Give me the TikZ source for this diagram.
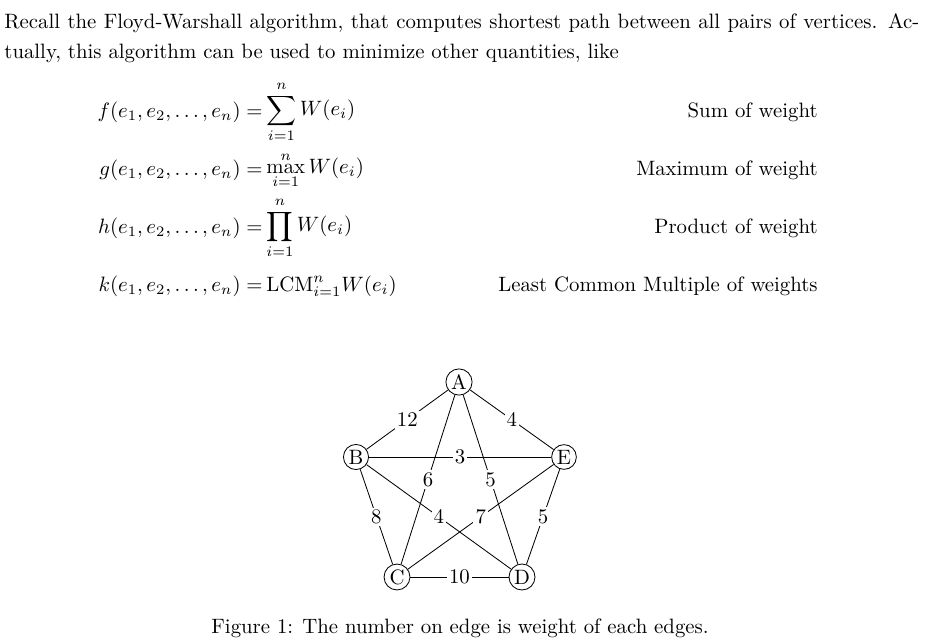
\documentclass[tikz,border=0pt]{standalone}
\usepackage{amsmath}
\begin{document}
\begin{tikzpicture}[x=0.481pt,y=-0.481pt,
  vtx/.style={circle,draw,inner sep=0.8pt,minimum size=11pt},
  wt/.style={fill=white,inner sep=1pt,midway},
  lhs/.style={anchor=east,inner sep=0pt},
  rhs/.style={anchor=west,inner sep=0pt},
  lab/.style={anchor=east,inner sep=0pt}]
\useasboundingbox (0,0) rectangle (927,638);
\node[anchor=north west,text width=440pt,align=justify,inner sep=0pt,font=\fontsize{10}{14.5}\selectfont] (par) at (4,13)
 {Recall the Floyd-Warshall algorithm, that computes shortest path between all pairs of vertices. Actually, this algorithm can be used to minimize other quantities, like};
% equations
\node[lhs] (f1) at (263,112) {$f(e_1,e_2,\dots,e_n)=$};
\node[rhs] (f2) at (266,112) {$\displaystyle\sum_{i=1}^{n}W(e_i)$};
\node[lab] (f3) at (818,112) {Sum of weight};
\node[lhs] (g1) at (263,170) {$g(e_1,e_2,\dots,e_n)=$};
\node[rhs] (g2) at (266,170) {$\displaystyle\max_{i=1}^{n}W(e_i)$};
\node[lab] (g3) at (818,170) {Maximum of weight};
\node[lhs] (h1) at (263,228) {$h(e_1,e_2,\dots,e_n)=$};
\node[rhs] (h2) at (266,228) {$\displaystyle\prod_{i=1}^{n}W(e_i)$};
\node[lab] (h3) at (818,228) {Product of weight};
\node[lhs] (k1) at (263,286) {$k(e_1,e_2,\dots,e_n)=$};
\node[rhs] (k2) at (266,286) {$\mathrm{LCM}_{i=1}^{n}W(e_i)$};
\node[lab] (k3) at (818,286) {Least Common Multiple of weights};
% graph
\node[vtx] (A) at (459,382) {A};
\node[vtx] (B) at (356,457) {B};
\node[vtx] (E) at (564,457) {E};
\node[vtx] (C) at (397,577) {C};
\node[vtx] (D) at (522,577) {D};
\draw (A) -- node[wt]{12} (B);
\draw (A) -- node[wt]{4} (E);
\draw (B) -- node[wt]{3} (E);
\draw (A) -- node[wt]{6} (C);
\draw (A) -- node[wt]{5} (D);
\draw (B) -- node[wt]{8} (C);
\draw (B) -- node[wt]{4} (D);
\draw (E) -- node[wt]{7} (C);
\draw (E) -- node[wt]{5} (D);
\draw (C) -- node[wt]{10} (D);
\node (cap) at (460,628) {Figure 1: The number on edge is weight of each edges.};
\end{tikzpicture}
\end{document}
